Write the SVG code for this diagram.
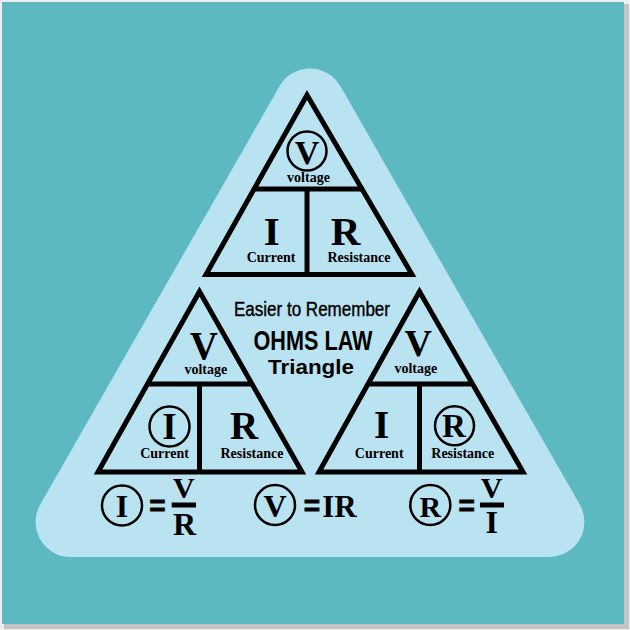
<svg xmlns="http://www.w3.org/2000/svg" width="630" height="630" viewBox="0 0 630 630">
<style>
.tri{fill:none;stroke:#000;stroke-width:5;stroke-linejoin:miter}
.ln{stroke:#000;stroke-width:5}
.circ{fill:none;stroke:#000;stroke-width:2.5}
.big{font-family:"Liberation Serif","Times New Roman",serif;font-weight:bold;text-anchor:middle;fill:#000}
.lab{font-family:"Liberation Serif","Times New Roman",serif;font-weight:bold;font-size:14px;text-anchor:middle;fill:#000}
.sans{font-family:"Liberation Sans",Arial,sans-serif;text-anchor:middle;fill:#000}
.eq{font-family:"Liberation Sans",Arial,sans-serif;font-weight:bold;font-size:28px;text-anchor:middle;fill:#000;stroke:#000;stroke-width:0.8}
</style>
<rect x="0" y="0" width="630" height="630" fill="#EEEEEE"/>
<rect x="4" y="4" width="625" height="625" fill="#C4C4C4"/>
<rect x="2" y="2" width="622" height="622" fill="#5CB8C1"/>
<polygon points="310,103.5 70.6,522 549.4,522" fill="#BAE3F2" stroke="#BAE3F2" stroke-width="70" stroke-linejoin="round"/>

<g id="top-triangle">
<polygon class="tri" points="307,95 206,274.5 412,274.5"/>
<line class="ln" x1="254" y1="189" x2="362" y2="189"/>
<line class="ln" x1="307" y1="189" x2="307" y2="274.5"/>
<circle class="circ" cx="307" cy="151" r="19.5"/>
<text class="big" x="307" y="163.5" font-size="34">V</text>
<text class="lab" x="308.5" y="182">voltage</text>
<text class="big" x="271.7" y="245" font-size="41">I</text>
<text class="big" x="345.5" y="245" font-size="41">R</text>
<text class="lab" x="271" y="262">Current</text>
<text class="lab" x="359" y="262">Resistance</text>
</g>

<g id="left-triangle">
<polygon class="tri" points="199.5,291.5 98,472 302,472"/>
<line class="ln" x1="147" y1="384" x2="252" y2="384"/>
<line class="ln" x1="199.5" y1="384" x2="199.5" y2="472"/>
<text class="big" x="203.8" y="359" font-size="39">V</text>
<text class="lab" x="205.8" y="373.5">voltage</text>
<circle class="circ" cx="169.5" cy="426.5" r="20"/>
<text class="big" x="169.5" y="439.3" font-size="37">I</text>
<text class="big" x="244" y="439.3" font-size="39">R</text>
<text class="lab" x="164.5" y="458.3">Current</text>
<text class="lab" x="252" y="458.3">Resistance</text>
</g>

<g id="right-triangle">
<polygon class="tri" points="419.5,291.5 319,472 523,472"/>
<line class="ln" x1="367" y1="384" x2="472" y2="384"/>
<line class="ln" x1="419.5" y1="384" x2="419.5" y2="472"/>
<text class="big" x="418.3" y="356" font-size="38">V</text>
<text class="lab" x="415.8" y="373">voltage</text>
<text class="big" x="381.7" y="437.5" font-size="39">I</text>
<circle class="circ" cx="454.5" cy="425.8" r="19.5"/>
<text class="big" x="454" y="437.3" font-size="33">R</text>
<text class="lab" x="379.2" y="458.3">Current</text>
<text class="lab" x="462.8" y="458.3">Resistance</text>
</g>

<g id="title">
<text class="sans" x="312" y="316" font-size="20" stroke="#000" stroke-width="0.4" textLength="156" lengthAdjust="spacingAndGlyphs">Easier to Remember</text>
<text class="sans" x="313" y="350" font-size="28" font-weight="bold" textLength="119" lengthAdjust="spacingAndGlyphs">OHMS LAW</text>
<text class="sans" x="311" y="374" font-size="20" font-weight="bold" textLength="86" lengthAdjust="spacingAndGlyphs">Triangle</text>
</g>

<g id="formula-I">
<circle class="circ" cx="122" cy="505.5" r="20"/>
<text class="big" x="122" y="516.7" font-size="32">I</text>
<text class="eq" x="157.5" y="515">=</text>
<text class="big" x="183.8" y="498.3" font-size="30">V</text>
<line class="ln" x1="171.7" y1="505" x2="196" y2="505" stroke-width="3.5"/>
<text class="big" x="184.5" y="535" font-size="32">R</text>
</g>

<g id="formula-V">
<circle class="circ" cx="275" cy="505" r="20"/>
<text class="big" x="275" y="516.5" font-size="32">V</text>
<text class="eq" x="312" y="515">=</text>
<text class="big" x="339.5" y="516.7" font-size="31">IR</text>
</g>

<g id="formula-R">
<circle class="circ" cx="430.3" cy="505" r="20"/>
<text class="big" x="430.3" y="516.5" font-size="30">R</text>
<text class="eq" x="466.7" y="515">=</text>
<text class="big" x="491.7" y="498.3" font-size="30">V</text>
<line class="ln" x1="480" y1="505" x2="504" y2="505" stroke-width="3.5"/>
<text class="big" x="491.7" y="532.7" font-size="32">I</text>
</g>
</svg>
